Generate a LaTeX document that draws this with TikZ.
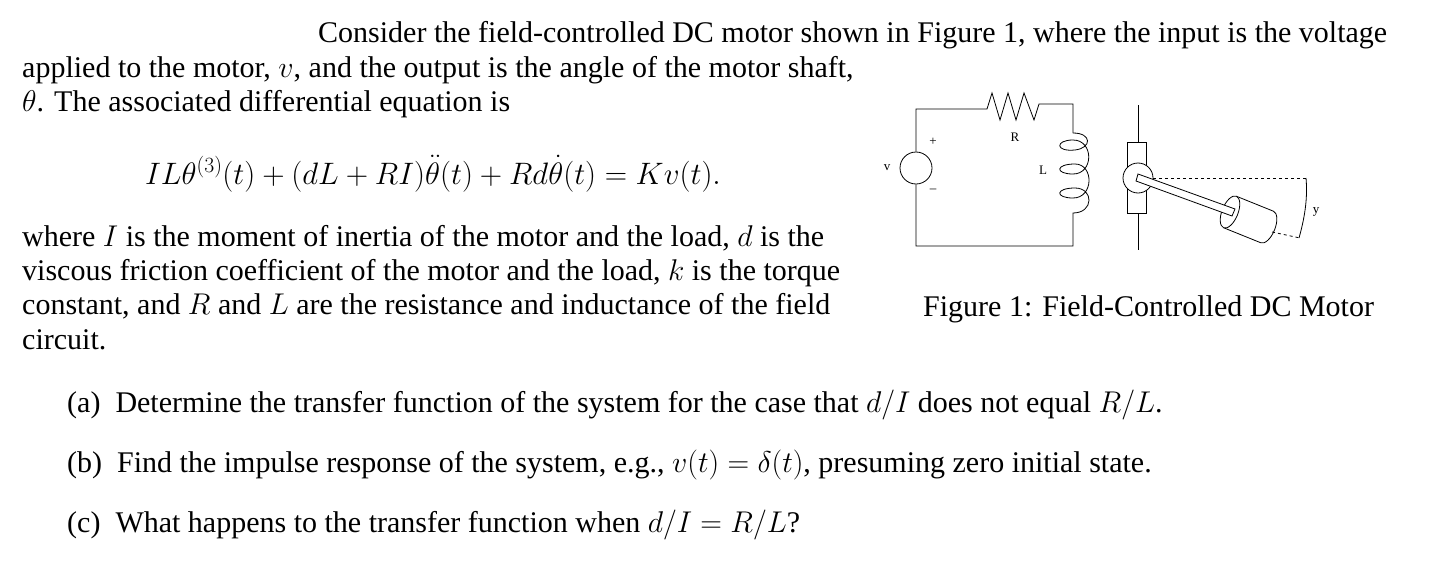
\RequirePackage{fix-cm}
\documentclass[tikz,border=0pt]{standalone}
\usepackage{fontspec}
\setmainfont{Liberation Serif}
\begin{document}
\begin{tikzpicture}[x=1pt,y=-1pt,
  txt/.style={anchor=base west,inner sep=0pt,font=\fontsize{30}{36}\selectfont},
  small/.style={inner sep=0pt,font=\fontsize{13}{15}\selectfont},
  wire/.style={line width=0.8pt}]
\useasboundingbox (0,0) rectangle (1454,562);
\node[txt] (l1) at (318,42) {Consider the field-controlled DC motor shown in Figure 1, where the input is the voltage};
\node[txt] (l2) at (22,77) {applied to the motor, $v$, and the output is the angle of the motor shaft,};
\node[txt] (l3) at (22,111) {$\theta$. The associated differential equation is};
\node[txt,font=\fontsize{31}{36}\selectfont] (eq) at (145,184) {$IL\theta^{(3)}(t)+(dL+RI)\ddot\theta(t)+Rd\dot\theta(t)=Kv(t).$};
\node[txt] (l4) at (22,246) {where $I$ is the moment of inertia of the motor and the load, $d$ is the};
\node[txt] (l5) at (22,280) {viscous friction coefficient of the motor and the load, $k$ is the torque};
\node[txt] (l6) at (22,314) {constant, and $R$ and $L$ are the resistance and inductance of the field};
\node[txt] (l7) at (22,349) {circuit.};
\node[txt] (cap) at (923,316) {Figure 1: Field-Controlled DC Motor};
\node[txt] (pa) at (67,412) {(a)\ \ Determine the transfer function of the system for the case that $d/I$ does not equal $R/L$.};
\node[txt] (pb) at (67,472) {(b)\ \ Find the impulse response of the system, e.g., $v(t)=\delta(t)$, presuming zero initial state.};
\node[txt] (pc) at (67,532) {(c)\ \ What happens to the transfer function when $d/I=R/L$?};
% circuit
\node[draw,wire,circle,minimum size=32pt,inner sep=0pt] (src) at (916,168) {};
\coordinate (tl) at (916,109);
\coordinate (bl) at (916,246);
\coordinate (br) at (1073,246);
\coordinate (tr) at (1073,104);
\coordinate (r1) at (987,109);
\coordinate (r2) at (1039,104);
\draw[wire] (src.north) -- (tl) -- (r1)
  -- (992,93) -- (1000,120) -- (1008,93) -- (1016,120) -- (1024,93) -- (1034,120) -- (1039,104)
  -- (r2) -- (tr) -- (1073,133);
\draw[wire] (1073,133) .. controls (1092,133) and (1092,148) .. (1075,150)
  .. controls (1055,152) and (1055,140) .. (1073,140)
  .. controls (1094,140) and (1094,174) .. (1073,174)
  .. controls (1055,174) and (1055,164) .. (1075,164)
  .. controls (1094,164) and (1094,198) .. (1073,198)
  .. controls (1055,198) and (1055,188) .. (1075,188)
  .. controls (1094,188) and (1094,213) .. (1073,213)
  -- (br) -- (bl) -- (src.south);
\node[small] (pl) at (933,142) {+};
\node[small] (mi) at (933,191) {--};
\node[small] (vl) at (887,168) {v};
\node[small] (rl) at (1015,137) {R};
\node[small] (ll) at (1043,170) {L};
% motor
\draw[wire] (1138,105) -- (1138,143);
\draw[wire] (1138,214) -- (1138,250);
\node[draw,wire,fill=white,minimum width=19pt,minimum height=71pt,inner sep=0pt] (hous) at (1137,178) {};
\node[draw,wire,fill=white,circle,minimum size=30pt,inner sep=0pt] (rot) at (1138,178) {};
\draw[wire,dashed] (1153,178) -- (1306,178);
\begin{scope}[shift={(1230,212)},y=1pt,rotate=-22]
\draw[wire,fill=white] (0,17) -- (40,17) arc (90:-90:8 and 17) -- (0,-17);
\draw[wire,fill=white] (0,0) ellipse (8 and 17);
\end{scope}
\draw[wire,fill=white] (1138,174) -- (1235,209) -- (1232,216) -- (1136,181) -- cycle;
\draw[wire,dashed] (1272,232) -- (1300,238);
\draw[wire] (1306,178) .. controls (1308,200) and (1304,220) .. (1299,238);
\node[small] (yl) at (1316,212) {y};
\end{tikzpicture}
\end{document}
